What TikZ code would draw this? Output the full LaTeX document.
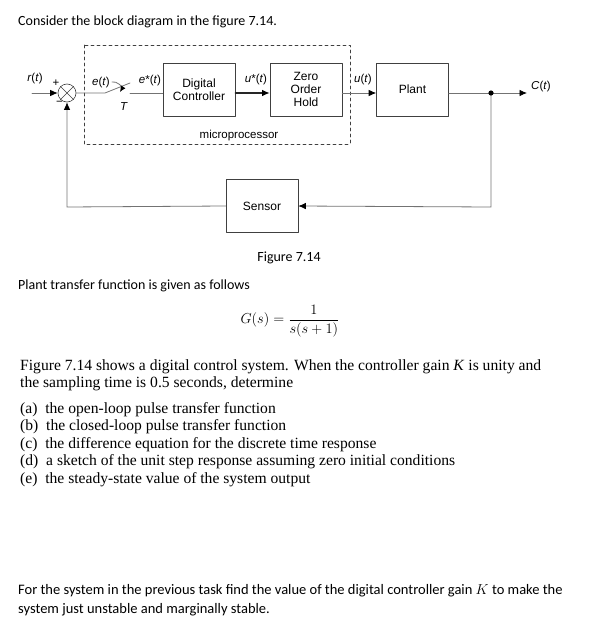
\documentclass[tikz,border=0pt]{standalone}
\usepackage{fontspec}
\setmainfont{Liberation Serif}
\newfontfamily\diagfont{Liberation Sans}
\newfontfamily\notefont{Carlito}
\usetikzlibrary{arrows, arrows.meta, calc, positioning}

\begin{document}
\begin{tikzpicture}[x=1pt, y=-1pt, line cap=round, line join=round,
    blk/.style={draw=black!75, line width=0.6pt, minimum width=72pt, minimum height=53pt, align=center, inner sep=0pt, font=\diagfont\fontsize{12}{13.2}\selectfont},
    sig/.style={draw=black!55, line width=0.8pt},
    tip/.style={-{Latex[length=7.5pt, width=6.5pt, color=black]}},
    lbl/.style={inner sep=0pt, font=\diagfont\fontsize{11.5}{13}\selectfont},
    note/.style={inner sep=0pt, anchor=base west, font=\notefont\fontsize{14}{19}\selectfont},
    body/.style={inner sep=0pt, anchor=base west, align=left, font=\fontsize{15.6}{17.5}\selectfont}]
    \useasboundingbox (0,0) rectangle (592,626);

    \node[note] (intro) at (18,26) {Consider the block diagram in the figure 7.14.};

    % microprocessor frame
    \draw[black!75, line width=0.7pt, dashed] (84,45) rectangle (350,144);
    \node[lbl] (micro) at (239,136) {microprocessor};

    % blocks
    \draw (199,89.5) node[blk] (dc) {Digital\\Controller};
    \draw (306,89.5) node[blk] (zoh) {Zero\\Order\\Hold};
    \draw (412.5,89.5) node[blk] (plant) {Plant};
    \draw (262,206) node[blk] (sensor) {Sensor};

    % summing junction
    \draw (67,93) node[circle, draw=black!75, line width=0.6pt, minimum size=18pt, inner sep=0pt] (sum) {};
    \draw[black!75, line width=0.6pt] (sum.north west) -- (sum.south east) (sum.north east) -- (sum.south west);
    \node[lbl] (plus) at (56,83) {+};
    \node[lbl] (minus) at (59.5,103) {\textminus};

    % sampler
    \coordinate (in) at (32,93);
    \coordinate (swa) at (105,93);
    \coordinate (swb) at (130,83);
    \coordinate (swc) at (130,93);
    \coordinate (pick) at (491,93);
    \coordinate (out) at (527,93);
    \coordinate (fbr) at (491,207);
    \coordinate (fbl) at (67,207);

    % labels
    \node[lbl] (rt) at (35,79) {\textit{r}(\textit{t})};
    \node[lbl] (et) at (101,83) {\textit{e}(\textit{t})};
    \node[lbl] (est) at (150,81) {\textit{e}*(\textit{t})};
    \node[lbl] (T) at (124,107) {\textit{T}};
    \node[lbl] (ust) at (256,80) {\textit{u}*(\textit{t})};
    \node[lbl] (ut) at (363,80) {\textit{u}(\textit{t})};
    \node[lbl] (ct) at (541,87) {\textit{C}(\textit{t})};

    % Edges
    \draw[sig] (sum.east) -- (swa) -- (swb);
    \draw[sig, -{Latex[length=6pt, width=5.5pt, color=black]}] (112,82) to[bend left=70] (120,92);
    \draw[sig] (swc) -- (dc.west |- swc);
    \draw[sig, tip, line width=1.2pt, black!85] (dc.east |- swc) -- (zoh.west |- swc);
    \draw[sig, tip] (zoh.east |- swc) -- (plant.west |- swc);
    \draw[sig] (plant.east |- swc) -- (pick);
    \foreach \source/\target in {in/sum.west, pick/out} {
            \draw[sig, tip] (\source) -- (\target);
        }
    \draw[sig, tip] (pick) -- (fbr) -- (sensor.east);
    \draw[sig, tip] (sensor.west) -- (fbl) -- (sum.south);
    \fill[black] (pick) circle (2.6pt);

    \node[note, anchor=base] (cap) at (289,261) {Figure 7.14};
    \node[note] (given) at (18,289) {Plant transfer function is given as follows};
    \node[inner sep=0pt, font=\fontsize{14}{16}\selectfont] (gs) at (290,321) {$\displaystyle G(s)=\frac{1}{s(s+1)}$};

    % multi-line texts sit on their last line
    \node[body] (task) at (20,387.5)
        {Figure 7.14 shows a digital control system. When the controller gain \textit{K} is unity and\\
         the sampling time is 0.5 seconds, determine};
    \node[body] (items) at (20,483)
        {(a)\ \ the open-loop pulse transfer function\\
         (b)\ \ the closed-loop pulse transfer function\\
         (c)\ \ the difference equation for the discrete time response\\
         (d)\ \ a sketch of the unit step response assuming zero initial conditions\\
         (e)\ \ the steady-state value of the system output};

    \node[note, align=left, font=\notefont\fontsize{14.5}{19}\selectfont] (extra) at (18,613)
        {For the system in the previous task find the value of the digital controller gain $K$ to make the\\
         system just unstable and marginally stable.};
\end{tikzpicture}
\end{document}
